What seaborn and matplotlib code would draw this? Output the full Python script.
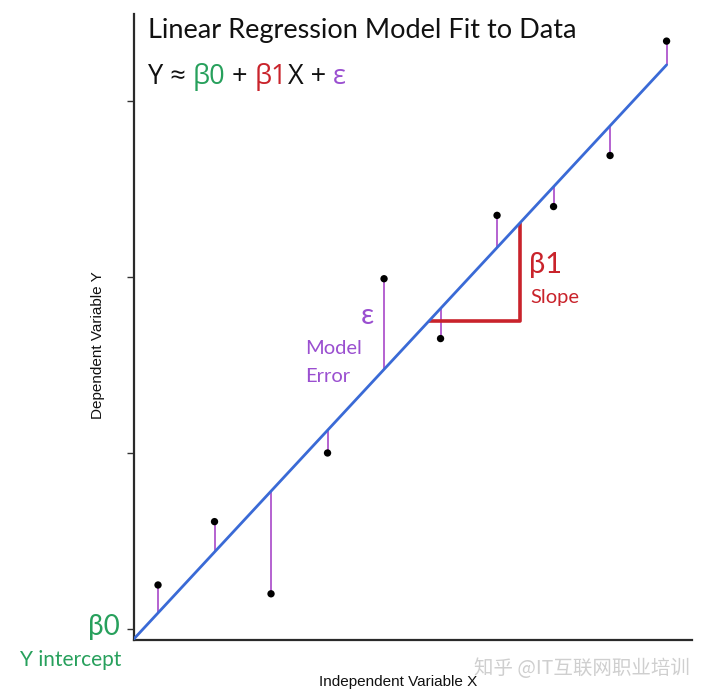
import numpy as np
import pandas as pd
import seaborn as sns
import matplotlib.pyplot as plt

x_vals = [1, 2, 3, 4, 5, 6, 7, 8, 9, 10]
y_vals = [0.25, 0.61, 0.20, 1.00, 1.99, 1.65, 2.35, 2.40, 2.69, 3.34]
y_ticks = [0, 1, 2, 3]
slope_x = [5.8, 7.4]   # run of the slope triangle

GREEN = '#27a05c'
RED = '#c9232b'
PURPLE = '#9a4fd0'
RESID = '#a848c8'
BLUE = '#3a6ad6'
W, H = 702, 700

df = pd.DataFrame({'x': x_vals, 'y': y_vals})
b1, b0 = np.polyfit(df['x'], df['y'], 1)
df['fit'] = b0 + b1 * df['x']

sns.set_theme(style='white')
plt.rcParams['font.family'] = ['Lato', 'Open Sans', 'DejaVu Sans']

fig = plt.figure(figsize=(W / 100, H / 100), dpi=100)
ax = fig.add_axes([134 / W, 1 - 640 / H, 558 / W, 626 / H])
ax.set_xlim(0.575, 10.45)
ax.set_ylim(-0.0625, 3.494)


def fx(px):
    return px / W


def fy(py):
    return 1 - py / H


# residuals
ax.vlines(df['x'], df['y'], df['fit'], color=RESID, lw=1.2, zorder=2)

# fitted line from the y axis to the last point
line_x = np.array([ax.get_xlim()[0], df['x'].max()])
sns.lineplot(x=line_x, y=b0 + b1 * line_x, color=BLUE, lw=2.0, ax=ax, zorder=3)

sns.scatterplot(data=df, x='x', y='y', color='black', s=28, edgecolor='none',
                zorder=4, ax=ax)

# slope triangle
sx = np.array(slope_x)
sy = b0 + b1 * sx
ax.plot([sx[0], sx[1], sx[1]], [sy[0], sy[0], sy[1]], color=RED, lw=2.6,
        solid_capstyle='butt', zorder=2)

ax.set_yticks(y_ticks)
ax.set_yticklabels([])
ax.set_xticks([])
ax.tick_params(axis='y', left=True, length=5, width=1, color='#333333')
ax.set_xlabel('')
ax.set_ylabel('')
sns.despine(ax=ax)
for side in ['left', 'bottom']:
    ax.spines[side].set_color('#2a2a2a')
    ax.spines[side].set_linewidth(1.6)

# title and equation
fig.text(fx(148), fy(38), 'Linear Regression Model Fit to Data', fontsize=19.5,
         color='#111111', va='baseline', ha='left')
eq_font = ['Open Sans', 'DejaVu Sans']
parts = [('Y ≈ ', '#111111'), ('β0', GREEN), (' + ', '#111111'), ('β1', RED),
         ('X + ', '#111111'), ('ε', PURPLE)]
t = fig.text(fx(148), fy(84), parts[0][0], fontsize=19.5, color=parts[0][1],
             family=eq_font, va='baseline', ha='left')
for s, c in parts[1:]:
    t = ax.annotate(s, xy=(1, 0), xycoords=t, fontsize=19.5, color=c,
                    family=eq_font, va='bottom', ha='left',
                    annotation_clip=False)

# annotations
fig.text(fx(529), fy(265), 'β1', fontsize=21, color=RED, va='center', ha='left')
fig.text(fx(530), fy(298), 'Slope', fontsize=14.5, color=RED, va='center', ha='left')
fig.text(fx(367), fy(316), 'ε', fontsize=21, color=PURPLE, va='center', ha='center')
fig.text(fx(305), fy(349), 'Model', fontsize=14.5, color=PURPLE, va='center', ha='left')
fig.text(fx(305), fy(377), 'Error', fontsize=14.5, color=PURPLE, va='center', ha='left')
fig.text(fx(88), fy(627), 'β0', fontsize=20, color=GREEN, va='center', ha='left')
fig.text(fx(20), fy(660), 'Y intercept', fontsize=15, color=GREEN, va='center', ha='left')

# axis labels
fig.text(fx(98), fy(345), 'Dependent Variable Y', fontsize=11, rotation=90,
         family='Liberation Sans', color='#111111', va='center', ha='center')
fig.text(fx(398), fy(682), 'Independent Variable X', fontsize=11,
         family='Liberation Sans', color='#111111', va='center', ha='center')

# watermark
fig.text(fx(690), fy(668), '知乎 @IT互联网职业培训', fontsize=14, color='#cfcfcf',
         family=['Noto Sans CJK SC', 'DejaVu Sans'], va='center', ha='right')

fig.savefig('out.png', dpi=100)
